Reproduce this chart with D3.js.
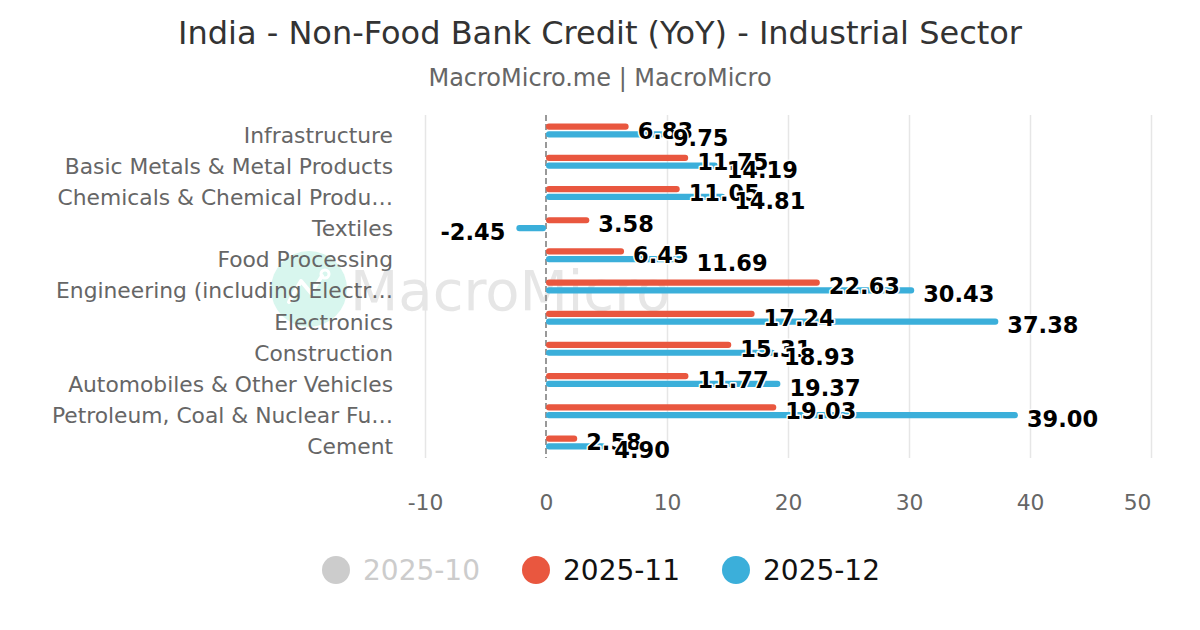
<!DOCTYPE html>
<html lang="en">
<head>
    <meta charset="UTF-8">
    <title>India - Non-Food Bank Credit (YoY) - Industrial Sector</title>
    <script src="https://d3js.org/d3.v7.min.js"></script>
    <style>
        body { margin: 0; background: #fff; }
        svg { font-family: "DejaVu Sans", sans-serif; display: block; }
        .cat-axis text, .x-axis text {
            font-family: "DejaVu Sans", sans-serif;
            font-size: 21.8px;
            fill: #666;
        }
        .grid line { stroke: #e6e6e6; stroke-width: 1.5px; }
        .value-label {
            font-size: 22.5px;
            font-weight: bold;
            fill: #000;
            stroke: #fff;
            stroke-width: 3px;
            stroke-linejoin: round;
            paint-order: stroke;
        }
        .legend text { font-size: 28px; }
    </style>
</head>
<body>
    <svg width="1200" height="630"></svg>

    <script>
        // categories as shown on the chart (long names are cut off there)
        const categories = [
            'Infrastructure',
            'Basic Metals & Metal Products',
            'Chemicals & Chemical Produ…',
            'Textiles',
            'Food Processing',
            'Engineering (including Electr…',
            'Electronics',
            'Construction',
            'Automobiles & Other Vehicles',
            'Petroleum, Coal & Nuclear Fu…',
            'Cement'
        ];

        const seriesNames = ['2025-10', '2025-11', '2025-12'];
        const hiddenSeries = ['2025-10'];   // switched off in the legend

        const values2025_11 = [6.83, 11.75, 11.05, 3.58, 6.45, 22.63, 17.24, 15.31, 11.77, 19.03, 2.58];
        const values2025_12 = [9.75, 14.19, 14.81, -2.45, 11.69, 30.43, 37.38, 18.93, 19.37, 39.00, 4.90];

        const xTicks = [-10, 0, 10, 20, 30, 40, 50];

        const colors = { '2025-10': '#cccccc', '2025-11': '#e9573f', '2025-12': '#3bafda' };

        const seriesValues = { '2025-11': values2025_11, '2025-12': values2025_12 };
        const visible = seriesNames.filter(s => !hiddenSeries.includes(s));

        const svg = d3.select('svg');

        const plot = { left: 425, right: 1151, top: 115, bottom: 458 };

        const x = d3.scaleLinear().domain([-10, 50]).range([plot.left, plot.right]);
        const y = d3.scaleBand().domain(categories).range([plot.top, plot.bottom]);
        const sub = d3.scaleBand().domain(visible)
            .range([y.bandwidth() / 2 - 7, y.bandwidth() / 2 + 7])
            .paddingInner(0.2);

        // title
        svg.append('text')
            .attr('x', 600).attr('y', 44)
            .attr('text-anchor', 'middle')
            .style('font-size', '32px').style('fill', '#333')
            .text('India - Non-Food Bank Credit (YoY) - Industrial Sector');

        svg.append('text')
            .attr('x', 600).attr('y', 86)
            .attr('text-anchor', 'middle')
            .style('font-size', '24px').style('fill', '#666')
            .text('MacroMicro.me | MacroMicro');

        // watermark
        const wm = svg.append('g').attr('class', 'watermark');
        wm.append('circle').attr('cx', 309).attr('cy', 289).attr('r', 38).style('fill', '#d8f6ee');
        wm.append('path')
            .attr('d', 'M289,302 L301,281 L311,293 L322,276')
            .style('fill', 'none').style('stroke', '#fff').style('stroke-width', 4)
            .style('stroke-linecap', 'round').style('stroke-linejoin', 'round');
        wm.append('circle').attr('cx', 325).attr('cy', 274).attr('r', 4)
            .style('fill', 'none').style('stroke', '#fff').style('stroke-width', 3);
        wm.append('text')
            .attr('x', 350).attr('y', 310)
            .style('font-size', '56px').style('font-weight', 500).style('fill', '#e6e6e6')
            .text('MacroMicro');

        // vertical grid
        svg.append('g')
            .attr('class', 'grid')
            .attr('transform', `translate(0, ${plot.bottom})`)
            .call(d3.axisBottom(x).tickValues(xTicks.filter(t => t !== 0))
                .tickSize(-(plot.bottom - plot.top)).tickFormat(''))
            .call(g => g.select('.domain').remove());

        // zero line
        svg.append('line')
            .attr('x1', x(0)).attr('x2', x(0))
            .attr('y1', plot.top).attr('y2', plot.bottom)
            .style('stroke', '#999').style('stroke-width', 2)
            .style('stroke-dasharray', '6,3');

        // x axis labels (last one is pulled inside the chart edge)
        svg.append('g')
            .attr('class', 'x-axis')
            .attr('transform', `translate(0, ${plot.bottom})`)
            .call(d3.axisBottom(x).tickValues(xTicks).tickSize(0).tickPadding(37)
                .tickFormat(d => String(d)))
            .call(g => g.select('.domain').remove())
            .call(g => g.selectAll('.tick:last-of-type text').attr('x', -14));

        // category labels
        svg.append('g')
            .attr('class', 'cat-axis')
            .attr('transform', `translate(${plot.left}, 5)`)
            .call(d3.axisLeft(y).tickSize(0).tickPadding(32))
            .call(g => g.select('.domain').remove());

        // bars
        const rows = [];
        visible.forEach(s => {
            categories.forEach((c, i) => rows.push({ series: s, category: c, value: seriesValues[s][i] }));
        });

        svg.append('g').selectAll('rect')
            .data(rows)
            .enter()
            .append('rect')
            .attr('x', d => x(Math.min(0, d.value)))
            .attr('y', d => y(d.category) + sub(d.series))
            .attr('width', d => Math.abs(x(d.value) - x(0)))
            .attr('height', sub.bandwidth())
            .attr('rx', 3)
            .style('fill', d => colors[d.series]);

        // value labels
        svg.append('g').selectAll('text')
            .data(rows)
            .enter()
            .append('text')
            .attr('class', 'value-label')
            .attr('x', d => d.value >= 0 ? x(d.value) + 9 : x(d.value) - 11)
            .attr('y', d => y(d.category) + sub(d.series) + sub.bandwidth() / 2 + 4)
            .attr('dy', '0.35em')
            .attr('text-anchor', d => d.value >= 0 ? 'start' : 'end')
            .text(d => d.value.toFixed(2));

        // legend
        const legend = svg.append('g').attr('class', 'legend');
        const items = legend.selectAll('g')
            .data(seriesNames)
            .enter()
            .append('g');

        items.append('circle')
            .attr('r', 14)
            .attr('cx', 14)
            .attr('cy', 0)
            .style('fill', d => hiddenSeries.includes(d) ? '#cccccc' : colors[d]);

        items.append('text')
            .attr('x', 41)
            .attr('dy', '0.35em')
            .style('fill', d => hiddenSeries.includes(d) ? '#cccccc' : '#111')
            .text(d => d);

        const widths = [];
        items.each(function () { widths.push(this.getBBox().width); });
        const gap = 42;
        const total = d3.sum(widths) + gap * (widths.length - 1);
        let cursor = 601 - total / 2;
        items.attr('transform', (d, i) => {
            const t = `translate(${cursor}, 570)`;
            cursor += widths[i] + gap;
            return t;
        });
    </script>
</body>
</html>
